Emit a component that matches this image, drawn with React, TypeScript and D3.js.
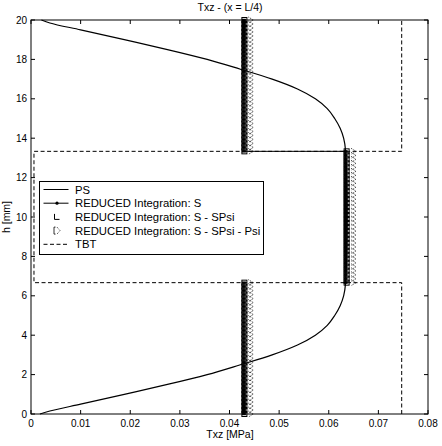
import React from "react";
import * as d3 from "d3";

// ---- data ----
const xTicks = [0, 0.01, 0.02, 0.03, 0.04, 0.05, 0.06, 0.07, 0.08];
const xTickLabels = ["0", "0.01", "0.02", "0.03", "0.04", "0.05", "0.06", "0.07", "0.08"];
const yTicks = [0, 2, 4, 6, 8, 10, 12, 14, 16, 18, 20];

// PS (continuous solution)
const psH = [0, 0.15, 0.5, 1.0, 1.5, 2.0, 2.5, 3.0, 3.5, 4.0, 4.5, 5.0, 5.5, 6.0, 6.667, 8.0, 10.0, 12.0, 13.333, 14.0, 14.5, 15.0, 15.5, 16.0, 16.5, 17.0, 17.5, 18.0, 18.5, 19.0, 19.5, 19.85, 20];
const psTau = [0.0018, 0.0038, 0.0100, 0.0188, 0.0275, 0.0355, 0.0422, 0.0486, 0.0537, 0.0573, 0.0597, 0.0612, 0.0623, 0.0630, 0.0634, 0.0636, 0.0637, 0.0636, 0.0634, 0.0630, 0.0623, 0.0612, 0.0597, 0.0573, 0.0537, 0.0486, 0.0422, 0.0355, 0.0275, 0.0188, 0.0100, 0.0038, 0.0021];

// layered (reduced integration) results: constant per layer
const layerBounds = [0, 6.667, 13.333, 20];
const sTau = [0.0429, 0.0634, 0.0429];
const sPsiTau = [0.0430, 0.0636, 0.0430];
const sPsiPsiTau = [0.0442, 0.0649, 0.0442];
const meshStep = 0.2;

// TBT
const tbtH = [0, 6.667, 6.667, 13.333, 13.333, 20];
const tbtTau = [0.0747, 0.0747, 0.0006, 0.0006, 0.0747, 0.0747];

const legendLabels = [
  "PS",
  "REDUCED Integration: S",
  "REDUCED Integration: S - SPsi",
  "REDUCED Integration: S - SPsi - Psi",
  "TBT",
];

const W = 442;
const H = 446;
const FONT = "'Liberation Sans', Arial, Helvetica, sans-serif";

export default function App() {
  const x = d3.scaleLinear().domain([0, 0.08]).range([31, 428]);
  const y = d3.scaleLinear().domain([0, 20]).range([414, 20]);

  const line = d3
    .line<[number, number]>()
    .x((d) => x(d[0]))
    .y((d) => y(d[1]));

  const psPts: [number, number][] = psH.map((h, i) => [psTau[i], h]);
  const psPath = d3
    .line<[number, number]>()
    .x((d) => x(d[0]))
    .y((d) => y(d[1]))
    .curve(d3.curveMonotoneY)(psPts) as string;

  const tbtPath = line(tbtH.map((h, i) => [tbtTau[i], h] as [number, number])) as string;

  // mesh points per layer
  const layerPts = (vals: number[]) =>
    vals.map((v, li) => {
      const lo = layerBounds[li];
      const hi = layerBounds[li + 1];
      const n = Math.round((hi - lo) / meshStep);
      return d3.range(n + 1).map((k) => [v, lo + ((hi - lo) * k) / n] as [number, number]);
    });

  const sLayers = layerPts(sTau);
  const sPsiLayers = layerPts(sPsiTau);
  const psiLayers = layerPts(sPsiPsiTau);

  // S line: lower layer separate, middle + top connected
  const sPathLower = line(sLayers[0]) as string;
  const sPathUpper = line([...sLayers[1], ...sLayers[2]]) as string;

  const legX = 39.5;
  const legY = 181.5;
  const legW = 224;
  const legH = 73;
  const rowY = (i: number) => 189.5 + i * 13.7;

  return (
    <svg
      width={W}
      height={H}
      style={{ position: "absolute", left: 0, top: 0, display: "block", background: "#fff" }}
      fontFamily={FONT}
    >
      <rect x={0} y={0} width={W} height={H} fill="#fff" />

      {/* TBT */}
      <path d={tbtPath} fill="none" stroke="#000" strokeWidth={1} strokeDasharray="4,2.5" />

      {/* S - SPsi - Psi : dotted markers */}
      {psiLayers.flat().map((d, i) => (
        <path
          key={"p" + i}
          d={`M${x(d[0]) - 2},${y(d[1]) - 3} L${x(d[0]) + 3},${y(d[1])} L${x(d[0]) - 2},${y(d[1]) + 3}`}
          fill="none"
          stroke="#000"
          strokeWidth={0.8}
          strokeDasharray="1,1"
        />
      ))}

      {/* S - SPsi : square markers */}
      {sPsiLayers.flat().map((d, i) => (
        <rect
          key={"q" + i}
          x={x(d[0]) - 2.5}
          y={y(d[1]) - 2.5}
          width={5}
          height={5}
          fill="none"
          stroke="#000"
          strokeWidth={1}
        />
      ))}

      {/* S : line with dot markers */}
      <path d={sPathLower} fill="none" stroke="#000" strokeWidth={1} />
      <path d={sPathUpper} fill="none" stroke="#000" strokeWidth={1} />
      {sLayers.flat().map((d, i) => (
        <rect key={"s" + i} x={x(d[0]) - 2} y={y(d[1]) - 1.2} width={4} height={2.4} fill="#000" />
      ))}

      {/* PS */}
      <path d={psPath} fill="none" stroke="#000" strokeWidth={1.2} />

      {/* axes box */}
      <rect x={31} y={20} width={397} height={394} fill="none" stroke="#000" strokeWidth={1} />

      {/* x ticks */}
      {xTicks.map((t, i) => (
        <g key={"xt" + i}>
          <line x1={x(t)} x2={x(t)} y1={414} y2={410} stroke="#000" />
          <line x1={x(t)} x2={x(t)} y1={20} y2={24} stroke="#000" />
          <text x={x(t)} y={427} fontSize={10} textAnchor="middle" fill="#000">
            {xTickLabels[i]}
          </text>
        </g>
      ))}

      {/* y ticks */}
      {yTicks.map((t, i) => (
        <g key={"yt" + i}>
          <line x1={31} x2={35} y1={y(t)} y2={y(t)} stroke="#000" />
          <line x1={428} x2={424} y1={y(t)} y2={y(t)} stroke="#000" />
          <text x={27} y={y(t) + 3.5} fontSize={10} textAnchor="end" fill="#000">
            {t}
          </text>
        </g>
      ))}

      {/* labels */}
      <text x={230} y={11} fontSize={10.5} textAnchor="middle" fill="#000">
        Txz - (x = L/4)
      </text>
      <text x={230} y={438} fontSize={10.5} textAnchor="middle" fill="#000">
        Txz [MPa]
      </text>
      <text
        transform={`translate(10,217) rotate(-90)`}
        fontSize={10.5}
        textAnchor="middle"
        fill="#000"
      >
        h [mm]
      </text>

      {/* legend */}
      <rect x={legX} y={legY} width={legW} height={legH} fill="#fff" stroke="#000" strokeWidth={1} />
      {legendLabels.map((lab, i) => {
        const yy = rowY(i);
        const x1 = 43.5;
        const x2 = 68.5;
        const cx = 57;
        return (
          <g key={"lg" + i}>
            {i === 0 && <line x1={x1} x2={x2} y1={yy} y2={yy} stroke="#000" />}
            {i === 1 && (
              <g>
                <line x1={x1} x2={x2} y1={yy} y2={yy} stroke="#000" />
                <circle cx={cx} cy={yy} r={1.6} fill="#000" />
              </g>
            )}
            {i === 2 && (
              <path
                d={`M${cx - 2.5},${yy - 3} V${yy + 2.5} H${cx + 2.5}`}
                fill="none"
                stroke="#000"
              />
            )}
            {i === 3 && (
              <g>
                <path d={`M${cx - 1.5},${yy - 3.5} H${cx - 3} V${yy + 3.5} H${cx - 1.5}`} fill="none" stroke="#000" strokeWidth={0.8} />
                <path
                  d={`M${cx},${yy - 3.5} L${cx + 3},${yy} L${cx},${yy + 3.5}`}
                  fill="none"
                  stroke="#000"
                  strokeWidth={0.8}
                  strokeDasharray="1,1"
                />
              </g>
            )}
            {i === 4 && (
              <line x1={x1} x2={x2} y1={yy} y2={yy} stroke="#000" strokeDasharray="4,2.5" />
            )}
            <text x={75} y={yy + 4} fontSize={11.3} fill="#000">
              {lab}
            </text>
          </g>
        );
      })}
    </svg>
  );
}
